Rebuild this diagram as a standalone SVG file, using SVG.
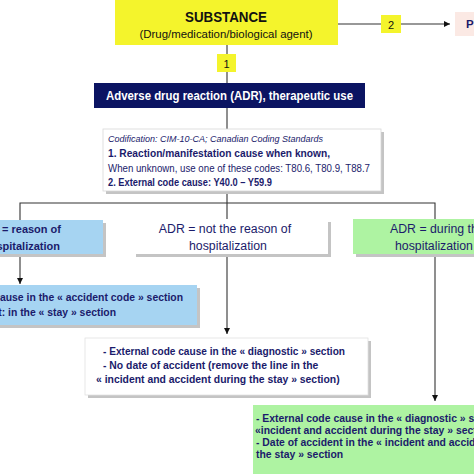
<svg xmlns="http://www.w3.org/2000/svg" width="474" height="474" viewBox="0 0 474 474">
<style>
.t{font-family:"Liberation Sans",Arial,sans-serif;fill:#1b1b6b}
.b{font-weight:bold}
.w{fill:#ffffff}
.k{fill:#111111}
.ln{stroke:#333333;stroke-width:1.1;fill:none}
.sh{fill:#c4c4c4}
.yl{fill:#f4f42c}
.bl{fill:#a6d4f2}
.gr{fill:#aef3a2}
</style>
<defs>
<marker id="ah" viewBox="0 0 8 8" refX="8" refY="4" markerWidth="6" markerHeight="6" markerUnits="userSpaceOnUse" orient="auto">
<path d="M0,0 L8,4 L0,8 z" fill="#111111"/>
</marker>
</defs>
<rect width="474" height="474" fill="#ffffff"/>

<g id="connectors">
<line class="ln" x1="338" y1="24" x2="450" y2="24" marker-end="url(#ah)"/>
<line class="ln" x1="227" y1="45" x2="227" y2="83"/>
<line class="ln" x1="227" y1="108" x2="227" y2="129"/>
<line class="ln" x1="227" y1="191" x2="227" y2="219"/>
<polyline class="ln" points="20,220 20,203 435,203 435,220"/>
<line class="ln" x1="20" y1="254" x2="20" y2="284" marker-end="url(#ah)"/>
<line class="ln" x1="227" y1="254" x2="227" y2="334" marker-end="url(#ah)"/>
<line class="ln" x1="435" y1="254" x2="435" y2="401" marker-end="url(#ah)"/>
<rect class="yl" x="381" y="15" width="20" height="18"/>
<text class="t k" x="391" y="28.5" font-size="11" text-anchor="middle">2</text>
<rect class="yl" x="217" y="54" width="19" height="18"/>
<text class="t k" x="226.5" y="67.5" font-size="11" text-anchor="middle">1</text>
</g>

<g id="substance">
<rect class="yl" x="115" y="-2" width="223" height="47"/>
<text class="t b k" x="226" y="22" font-size="14.5" text-anchor="middle" textLength="82" lengthAdjust="spacingAndGlyphs">SUBSTANCE</text>
<text class="t k" x="226" y="37.5" font-size="11" text-anchor="middle" textLength="173" lengthAdjust="spacingAndGlyphs" fill="#222">(Drug/medication/biological  agent)</text>
</g>

<g id="pv">
<rect x="455" y="12" width="30" height="24" fill="#fbe9e4"/>
<text class="t b" x="466" y="28" font-size="11.5">P</text>
</g>

<g id="adr">
<rect x="94" y="83" width="271" height="25" fill="#0b1462"/>
<text class="t b w" x="229.5" y="100" font-size="12.5" text-anchor="middle" textLength="247" lengthAdjust="spacingAndGlyphs">Adverse drug reaction (ADR), therapeutic use</text>
</g>

<g id="codification">
<rect class="sh" x="106" y="132" width="278" height="62"/>
<rect x="103" y="129" width="278" height="62" fill="#ffffff" stroke="#d8d8d8" stroke-width="0.8"/>
<text class="t" x="108" y="142" font-size="9.5" font-style="italic" textLength="215" lengthAdjust="spacingAndGlyphs">Codification: CIM-10-CA; Canadian Coding Standards</text>
<text class="t b" x="108" y="157" font-size="10.5" textLength="222" lengthAdjust="spacingAndGlyphs">1. Reaction/manifestation  cause when known,</text>
<text class="t" x="108" y="171.5" font-size="10" textLength="262" lengthAdjust="spacingAndGlyphs">When unknown,  use one of these codes: T80.6, T80.9, T88.7</text>
<text class="t b" x="108" y="185.5" font-size="10.5" textLength="164" lengthAdjust="spacingAndGlyphs">2. External  code cause: Y40.0 – Y59.9</text>
</g>

<g id="reason">
<rect class="sh" x="-5" y="223" width="111" height="34"/>
<rect class="bl" x="-5" y="220" width="108" height="34"/>
<text class="t b" x="61" y="233" font-size="11" text-anchor="end">ADR = reason of</text>
<text class="t b" x="60" y="250" font-size="11" text-anchor="end">hospitalization</text>
</g>

<g id="notreason">
<rect class="sh" x="136" y="222" width="195" height="35"/>
<rect x="133" y="219" width="195" height="35" fill="#ffffff"/>
<text class="t" x="225" y="233" font-size="12.3" text-anchor="middle">ADR = not the reason of</text>
<text class="t" x="228" y="250" font-size="12.3" text-anchor="middle">hospitalization</text>
</g>

<g id="during">
<rect class="sh" x="356" y="222" width="125" height="35"/>
<rect class="gr" x="353" y="219" width="125" height="35"/>
<text class="t" x="390" y="233" font-size="12.3">ADR = during the</text>
<text class="t" x="395" y="250" font-size="12.3">hospitalization</text>
</g>

<g id="accidentcode">
<rect class="sh" x="-5" y="288" width="205" height="40"/>
<rect class="bl" x="-5" y="285" width="202" height="40"/>
<text class="t b" x="183" y="301" font-size="10.4" text-anchor="end">cause in the « accident code » section</text>
<text class="t b" x="116" y="316" font-size="10.4" text-anchor="end">t: in the « stay » section</text>
</g>

<g id="diagnostic">
<rect class="sh" x="88" y="341" width="283" height="57"/>
<rect x="85" y="338" width="283" height="57" fill="#ffffff" stroke="#e2e2e2" stroke-width="0.8"/>
<text class="t b" x="103" y="355" font-size="10.4" textLength="242" lengthAdjust="spacingAndGlyphs">- External code cause in the « diagnostic » section</text>
<text class="t b" x="103" y="369" font-size="10.4">- No date of accident  (remove the line in the</text>
<text class="t b" x="96" y="383" font-size="10.4">« incident and accident during the stay » section)</text>
</g>

<g id="duringdetail">
<rect class="gr" x="253" y="405" width="230" height="75"/>
<text class="t b" x="256" y="422" font-size="10.4">- External code cause in the « diagnostic » section</text>
<text class="t b" x="255" y="434" font-size="10.4">«incident and accident during the stay » section</text>
<text class="t b" x="256" y="446" font-size="10.4">- Date of accident in the «  incident and accident during</text>
<text class="t b" x="256" y="458" font-size="10.4">the stay  » section</text>
</g>
</svg>
